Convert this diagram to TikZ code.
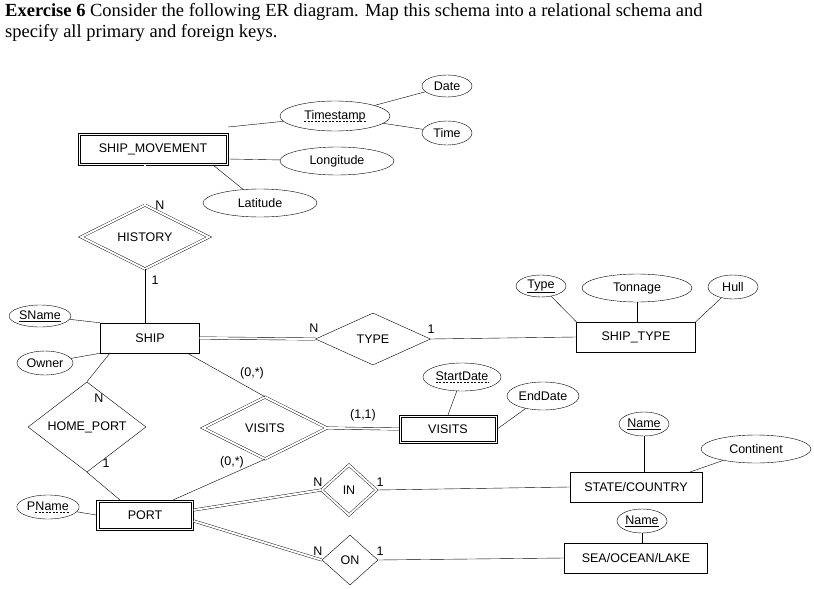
\documentclass[tikz,border=0pt]{standalone}
\usepackage{fontspec}
\setmainfont{Liberation Sans}
\newfontfamily\titlefont{Liberation Serif}
\usetikzlibrary{shapes.geometric}
\newcommand\myul[1]{\underline{#1}}
\newcommand\mydul[1]{\tikz[baseline=(d.base)]{\node[rectangle,inner sep=0pt,outer sep=0pt,draw=none,minimum size=0pt] (d) {#1};\draw[dash pattern=on 2pt off 1.5pt,line width=0.4pt] ([yshift=-2pt]d.base west) -- ([yshift=-2pt]d.base east);}}
\begin{document}
\begin{tikzpicture}[x=1pt,y=-1pt,
  every node/.style={font=\fontsize{12.5}{14}\selectfont},
  ent/.style={draw,rectangle,minimum height=30pt,inner sep=2pt},
  rel/.style={draw,diamond,inner sep=0pt},
  wrel/.style={rel,double,double distance=2pt},
  att/.style={draw,ellipse,inner sep=1pt},
  lab/.style={inner sep=0pt},
  dbl/.style={double,double distance=2pt}]
\useasboundingbox (0,0) rectangle (814,589);
\node[anchor=north west,align=left,inner sep=0pt,font=\titlefont\fontsize{18.5}{21}\selectfont] (title) at (5,3)
 {\textbf{Exercise 6} Consider the following ER diagram. Map this schema into a relational schema and\\ specify all primary and foreign keys.};
% entities
\node[ent,minimum width=150pt,minimum height=32pt] (sm) at (153,149) {SHIP\_MOVEMENT};
\node[ent,minimum width=99pt] (ship) at (150,338) {SHIP};
\node[ent,minimum width=119pt] (st) at (636,337) {SHIP\_TYPE};
\node[ent,minimum width=98pt,minimum height=28pt] (vis) at (448,429) {VISITS};
\node[ent,minimum width=97pt] (port) at (145,515) {PORT};
\node[ent,minimum width=132pt] (sc) at (636,487) {STATE/COUNTRY};
\node[ent,minimum width=143pt] (sea) at (636,558) {SEA/OCEAN/LAKE};
\foreach \n in {sm,vis,port}
  \draw ([xshift=2.5pt,yshift=-2.5pt]\n.north west) rectangle ([xshift=-2.5pt,yshift=2.5pt]\n.south east);
% relationships
\node[wrel,minimum width=128pt,minimum height=60pt] (hist) at (145,237) {HISTORY};
\node[rel,minimum width=115pt,minimum height=52pt] (type) at (373,339) {TYPE};
\node[rel,minimum width=118pt,minimum height=54pt] (hp) at (87,427) {HOME\_PORT};
\node[wrel,minimum width=124pt,minimum height=62pt] (visr) at (265,428) {VISITS};
\node[wrel,minimum width=55pt,minimum height=50pt] (in) at (349,490) {IN};
\node[rel,minimum width=56pt,minimum height=50pt] (on) at (350,560) {ON};
% attributes
\node[att,minimum width=110pt,minimum height=30pt] (ts) at (335,116) {\mydul{Timestamp}};
\node[att,minimum width=50pt,minimum height=22pt] (date) at (447,86) {Date};
\node[att,minimum width=50pt,minimum height=24pt] (time) at (447,133) {Time};
\node[att,minimum width=114pt,minimum height=28pt] (lon) at (337,161) {Longitude};
\node[att,minimum width=114pt,minimum height=28pt] (lat) at (260,203) {Latitude};
\node[att,minimum width=50pt,minimum height=22pt] (typea) at (541,286) {\myul{Type}};
\node[att,minimum width=110pt,minimum height=28pt] (ton) at (637,288) {Tonnage};
\node[att,minimum width=50pt,minimum height=24pt] (hull) at (733,287) {Hull};
\node[att,minimum width=52pt,minimum height=22pt] (sname) at (40,316) {\myul{SName}};
\node[att,minimum width=56pt,minimum height=24pt] (owner) at (45,363) {Owner};
\node[att,minimum width=72pt,minimum height=28pt] (sd) at (462,377) {\mydul{StartDate}};
\node[att,minimum width=72pt,minimum height=28pt] (ed) at (543,396) {EndDate};
\node[att,minimum width=52pt,minimum height=24pt] (pname) at (48,507) {P\mydul{Name}};
\node[att,minimum width=50pt,minimum height=24pt] (scn) at (644,424) {\myul{Name}};
\node[att,minimum width=110pt,minimum height=28pt] (cont) at (756,449) {Continent};
\node[att,minimum width=50pt,minimum height=24pt] (sean) at (642,521) {\myul{Name}};
% connectors
\draw (sm.east |- 0,127) -- (ts);
\draw (sm.east |- 0,159) -- (lon);
\draw (213,165) -- (lat);
\draw (ts) -- (date);
\draw (ts) -- (time);
\draw[dbl] (hist.north) -- (hist.north |- sm.south);
\draw (hist.south) -- (hist.south |- ship.north);
\draw[dbl] (ship.east) -- (type.west);
\draw (type.east) -- (st.west);
\draw (typea) -- (st.north west);
\draw (ton) -- (ton.south |- st.north);
\draw (hull) -- (st.north east);
\draw (sname) -- (ship.north west);
\draw (owner) -- (ship.south west);
\draw (110,353) -- (hp.north);
\draw (hp.south) -- (120,500);
\draw (187,353) -- (visr.north);
\draw (visr.south) -- (173,500);
\draw[dbl] (visr.east) -- (vis.west);
\draw (sd) -- (vis.north);
\draw (ed) -- (vis.east);
\draw (pname) -- (port.west);
\draw[dbl] (port.east |- 0,510) -- (in.west);
\draw (in.east) -- (sc.west);
\draw[dbl] (port.east |- 0,521) -- (on.west);
\draw (on.east) -- (sea.west);
\draw (scn) -- (scn.south |- sc.north);
\draw (cont) -- (690,472);
\draw (sean) -- (sean.south |- sea.north);
% labels
\node[lab] (l1) at (160,205) {N};
\node[lab] (l2) at (155,280) {1};
\node[lab] (l3) at (314,328) {N};
\node[lab] (l4) at (431,329) {1};
\node[lab] (l5) at (99,398) {N};
\node[lab] (l6) at (106,463) {1};
\node[lab] (l7) at (252,373) {(0,*)};
\node[lab] (l8) at (232,462) {(0,*)};
\node[lab] (l9) at (363,415) {(1,1)};
\node[lab] (l10) at (318,482) {N};
\node[lab] (l11) at (380,482) {1};
\node[lab] (l12) at (318,551) {N};
\node[lab] (l13) at (380,551) {1};
\end{tikzpicture}
\end{document}
